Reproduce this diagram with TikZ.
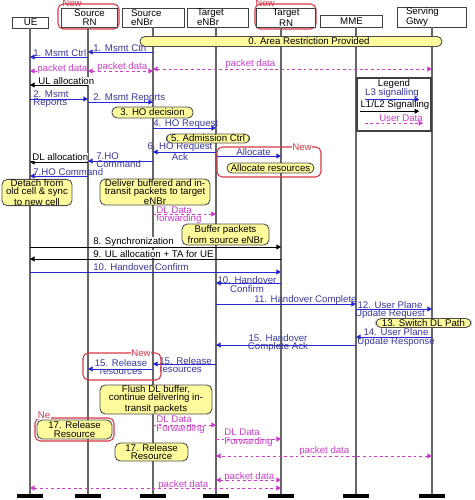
\documentclass[tikz,border=0pt]{standalone}
\usepackage{fontspec}
\setmainfont{Liberation Sans}
\usetikzlibrary{arrows.meta}
\definecolor{sigblue}{RGB}{40,40,210}
\definecolor{lblblue}{RGB}{55,55,160}
\definecolor{datapink}{RGB}{205,60,205}
\definecolor{noteyellow}{RGB}{255,250,155}
\definecolor{newred}{RGB}{215,55,70}
\newcommand{\smallfont}{\fontsize{5.5}{4.8}\selectfont}
\tikzstyle{head}=[draw=black!75,fill=white,line width=0.5pt,inner ysep=0pt,font=\smallfont]
\tikzstyle{lifeline}=[draw=black!60,line width=0.7pt]
\tikzstyle{l3}=[draw=sigblue,line width=0.5pt,-{Triangle[length=2.6pt,width=2.8pt]}]
\tikzstyle{l12}=[draw=black,line width=0.5pt,-{Triangle[length=2.6pt,width=2.8pt]}]
\tikzstyle{udata}=[draw=datapink,line width=0.5pt,dash pattern=on 1.6pt off 1.6pt,-{Triangle[length=2.6pt,width=2.8pt]}]
\tikzstyle{udata both}=[udata,{Triangle[length=2.6pt,width=2.8pt]}-{Triangle[length=2.6pt,width=2.8pt]}]
\tikzstyle{lbl}=[inner sep=0pt,font=\smallfont,text=lblblue]
\tikzstyle{note}=[draw=black!70,fill=noteyellow,line width=0.5pt,rounded corners=3pt,align=center,inner sep=0pt,font=\smallfont]
\tikzstyle{pill}=[note,rounded corners=2.8pt]
\tikzstyle{new frame}=[draw=newred,line width=0.6pt,rounded corners=3pt]
\tikzstyle{new label}=[inner sep=0.3pt,fill=white,text=newred,font=\smallfont]

\begin{document}
\begin{tikzpicture}[x=0.02cm,y=-0.02cm]
    \useasboundingbox (0,0) rectangle (474,500);

    % entities
    \draw[new frame] (58,4) rectangle (119,29);
    \draw[new frame] (255,4) rectangle (316,29);
    \node[new label,fill=none] (new1) at (72,3) {New};
    \node[new label,fill=none] (new2) at (265,3) {New};
    \foreach \pos/\name/\w/\h/\tw/\al/\txt in {
        {(30.5,22.5)}/ueh/0.7/0.22/0.5/center/UE,
        {(89.5,17.5)}/srnh/1.1/0.38/0.9/center/{Source\\RN},
        {(153,17.5)}/senbh/1.24/0.38/0.88/left/{Source\\eNBr},
        {(217.5,17.5)}/tenbh/1.22/0.38/0.82/left/{Target\\eNBr},
        {(286,17.5)}/trnh/1.16/0.38/0.96/center/{Target\\RN},
        {(351.5,21)}/mmeh/1.22/0.24/1.0/center/MME,
        {(431.5,17)}/sgwh/1.38/0.4/1.02/left/{Serving\\Gtwy}}
        \node[head,minimum width=\w cm,minimum height=\h cm,text width=\tw cm,align=\al] (\name) at \pos {\txt};

    \foreach \x/\name in {30/ue,88/srn,153/senb,216/tenb,281/trn,356/mme,432/sgw}{
        \coordinate (\name) at (\x,0);
        \draw[lifeline] (\name h.south -| \name) -- (\x,494);
        \fill (\x-13,494) rectangle (\x+13,498);
    }

    % legend
    \draw[draw=black!75,fill=white,line width=0.6pt] (357,78) rectangle (431,131);
    \node[lbl,text=black] (lgt) at (394,84) {Legend};
    \node[lbl] (lgl3) at (392,93) {L3 signalling};
    \draw[l3] ([yshift=-0.8pt]lgl3.south west) -- ([yshift=-0.8pt]lgl3.south east);
    \node[lbl,text=black] (lgl12) at (395,105) {L1/L2 Signalling};
    \draw[l12] ([yshift=-0.8pt]lgl12.south west) -- ([yshift=-0.8pt,xshift=-6pt]lgl12.south east);
    \node[lbl,text=datapink] (lgud) at (401,118) {User Data};
    \draw[udata] ([yshift=-0.8pt]lgl3.west |- lgud.south) -- ([yshift=-0.8pt]lgud.south east);

    % messages
    \foreach \src/\dst/\y in {senb/srn/52,srn/ue/57,ue/srn/99,srn/senb/102,senb/tenb/128,
                              tenb/senb/152,tenb/trn/156,senb/srn/161,srn/ue/176,ue/trn/272,
                              trn/tenb/283,tenb/mme/304,mme/sgw/309,sgw/mme/337,mme/tenb/345,
                              tenb/senb/364,senb/srn/369}
        \draw[l3] (\src |- 0,\y) -- (\dst |- 0,\y);
    \foreach \src/\dst/\y in {srn/ue/85,srn/ue/162,ue/trn/247,trn/ue/259}
        \draw[l12] (\src |- 0,\y) -- (\dst |- 0,\y);
    \foreach \src/\dst/\y in {senb/tenb/214,senb/tenb/425,tenb/trn/439}
        \draw[udata] (\src |- 0,\y) -- (\dst |- 0,\y);
    \foreach \src/\dst/\y in {ue/srn/71,srn/senb/71,senb/sgw/69,sgw/tenb/456,tenb/trn/480,ue/trn/488}
        \draw[udata both] (\src |- 0,\y) -- (\dst |- 0,\y);

    % labels
    \foreach \pos/\name/\txt in {{(93,48)}/m1a/{1. Msmt Ctrl}, {(33,53)}/m1b/{1. Msmt Ctrl},
                                 {(33,99)}/m2a/{2. Msmt\\Reports}, {(93,98)}/m2b/{2. Msmt Reports},
                                 {(153,124)}/m4/{4. HO Request}, {(236,152)}/mal/{Allocate},
                                 {(96,160)}/m7a/{7.HO\\Command}, {(33,172)}/m7b/{7.HO Command},
                                 {(93,267)}/m10a/{10. Handover Confirm},
                                 {(254,300)}/m11/{11. Handover Complete},
                                 {(159,365)}/m15b/{15. Release\\resources}}
        \node[lbl,anchor=west,align=left] (\name) at \pos {\txt};
    \foreach \pos/\name/\txt in {{(180,151.5)}/m6/{6. HO Request\\Ack},
                                 {(247,284.5)}/m10b/{10. Handover\\Confirm},
                                 {(390,310)}/m12/{12. User Plane\\Update Request},
                                 {(396,337.5)}/m14/{14. User Plane\\Update Response},
                                 {(278,343)}/m15a/{15. Handover\\Complete Ack},
                                 {(121,367)}/m16/{15. Release\\resources}}
        \node[lbl,align=center] (\name) at \pos {\txt};
    \foreach \pos/\name/\txt in {{(38,81)}/mul/{UL allocation}, {(32,157)}/mdl/{DL allocation},
                                 {(93,242)}/m8/{8. Synchronization},
                                 {(93,254)}/m9/{9. UL allocation + TA for UE}}
        \node[lbl,anchor=west,text=black,fill=white] (\name) at \pos {\txt};
    \node[lbl,anchor=west,fill=white,text=datapink] (pd1) at (37,69) {packet data};
    \foreach \pos/\name/\txt in {{(97,67)}/pd2/{packet data},
                                 {(225,64)}/pd3/{packet data},
                                 {(156,215)}/fw1/{DL Data\\forwarding},
                                 {(156,424.5)}/fw2/{DL Data\\Forwarding},
                                 {(224,437.5)}/fw3/{DL Data\\Forwarding},
                                 {(299,451)}/pd4/{packet data}, {(224,477)}/pd5/{packet data},
                                 {(158,485)}/pd6/{packet data}}
        \node[lbl,anchor=west,align=left,text=datapink] (\name) at \pos {\txt};

    % actions and notes
    \node[pill,minimum width=6.04cm,minimum height=0.2cm] (a0) at (291,41.5) {};
    \node[lbl,text=black] (a0t) at (309,41.5) {0. Area Restriction Provided};
    \node[pill,minimum width=1.62cm,minimum height=0.22cm] (a3) at (152.5,112.5) {3. HO decision};
    \node[pill,minimum width=1.66cm,minimum height=0.18cm] (a5) at (208,138.5) {5. Admission Ctrl};
    \node[pill,minimum width=1.74cm,minimum height=0.2cm] (aal) at (270.5,168) {Allocate resources};
    \node[pill,minimum width=1.9cm,minimum height=0.18cm] (a13) at (423.5,323) {13. Switch DL Path};
    \node[note,minimum width=1.4cm,minimum height=0.5cm] (ndet) at (37,192.5) {Detach from\\old cell \& sync\\to new cell};
    \node[note,minimum width=2.2cm,minimum height=0.52cm] (ndel) at (155,192) {Deliver buffered and in-\\transit packets to target\\eNBr};
    \node[note,minimum width=1.74cm,minimum height=0.42cm] (nbuf) at (225.5,234.5) {Buffer packets\\from source eNBr};
    \node[note,minimum width=2.24cm,minimum height=0.58cm] (nfl) at (156,399.5) {Flush DL buffer,\\continue delivering in-\\transit packets};
    \node[note,minimum width=1.5cm,minimum height=0.38cm] (nr17a) at (74.5,429.5) {17. Release\\Resource};
    \node[note,minimum width=1.46cm,minimum height=0.36cm] (nr17b) at (151.5,452) {17. Release\\Resource};

    % new parts
    \draw[new frame] (217,147) rectangle (321,177);
    \draw[new frame] (83,353) rectangle (161,380);
    \draw[new frame] (35,418) rectangle (114,441);
    \node[new label] (new3) at (302,147) {New};
    \node[new label] (new4) at (141,353) {New};
    \node[new label] (new5) at (44,415) {Ne};
\end{tikzpicture}
\end{document}
